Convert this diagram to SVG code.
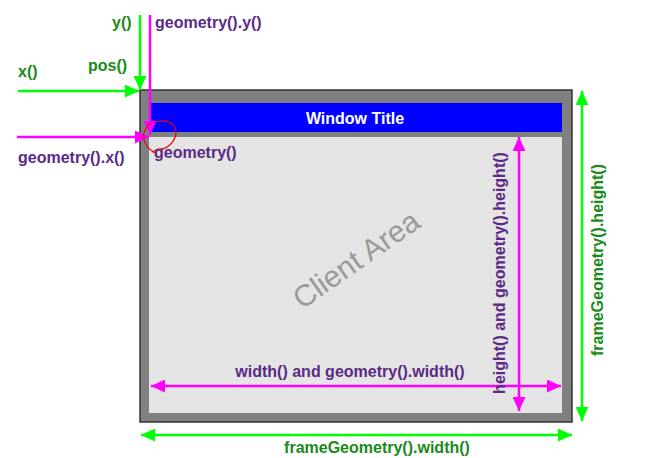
<svg xmlns="http://www.w3.org/2000/svg" width="646" height="458" viewBox="0 0 646 458">
<style>
text{font-family:"Liberation Sans",Arial,sans-serif;font-weight:bold;font-size:16px}
.g{fill:#1a8a1a}.p{fill:#5b2a86}
.lg{stroke:#00ff00;stroke-width:2.5;fill:none}
.lm{stroke:#ff00ff;stroke-width:2.5;fill:none}
</style>
<defs>
<marker id="ag" viewBox="0 0 10 10" refX="10" refY="5" markerWidth="14" markerHeight="13" orient="auto-start-reverse" markerUnits="userSpaceOnUse" preserveAspectRatio="none"><path d="M0,0L10,5L0,10z" fill="#00ff00"/></marker>
<marker id="am" viewBox="0 0 10 10" refX="10" refY="5" markerWidth="14" markerHeight="13" orient="auto-start-reverse" markerUnits="userSpaceOnUse" preserveAspectRatio="none"><path d="M0,0L10,5L0,10z" fill="#ff00ff"/></marker>
</defs>
<g id="window">
<rect x="140" y="90" width="432" height="332" fill="#808080" stroke="#333" stroke-width="1.5"/>
<rect x="149" y="137" width="413" height="276" fill="#e4e4e4"/>
<rect x="149" y="103" width="413" height="29" fill="#0000ff"/>
<text x="355" y="124" fill="#fff" text-anchor="middle">Window Title</text>
<text x="362" y="268" transform="rotate(-35 362 268)" text-anchor="middle" style="font-weight:normal;font-size:30px;fill:#999">Client Area</text>
</g>
<g id="connectors">
<line class="lg" x1="18" y1="91" x2="139" y2="91" marker-end="url(#ag)"/>
<line class="lg" x1="140" y1="15" x2="140" y2="90" marker-end="url(#ag)"/>
<line class="lm" x1="150" y1="15" x2="150" y2="135" marker-end="url(#am)"/>
<line class="lm" x1="17" y1="137" x2="149" y2="137" marker-end="url(#am)"/>
<line class="lm" x1="151" y1="386" x2="561" y2="386" marker-start="url(#am)" marker-end="url(#am)"/>
<line class="lm" x1="519" y1="137" x2="519" y2="411" marker-start="url(#am)" marker-end="url(#am)"/>
<line class="lg" x1="582" y1="91" x2="582" y2="421" marker-start="url(#ag)" marker-end="url(#ag)"/>
<line class="lg" x1="141" y1="435" x2="572" y2="435" marker-start="url(#ag)" marker-end="url(#ag)"/>
<path d="M155,153 C146,148 140,138 146,128 C152,120 168,118 174,126 C180,136 170,150 158,149 L152,152" fill="none" stroke="#e00" stroke-width="1.2"/>
</g>
<g id="labels">
<text x="112" y="28" class="g">y()</text>
<text x="155" y="28" class="p">geometry().y()</text>
<text x="18" y="77" class="g">x()</text>
<text x="88" y="71" class="g">pos()</text>
<text x="18" y="163" class="p">geometry().x()</text>
<text x="154" y="158" class="p">geometry()</text>
<text x="350" y="377" class="p" text-anchor="middle">width() and geometry().width()</text>
<text x="505" y="273" class="p" text-anchor="middle" transform="rotate(-90 505 273)">height() and geometry().height()</text>
<text x="603" y="260" class="g" text-anchor="middle" transform="rotate(-90 603 260)">frameGeometry().height()</text>
<text x="377" y="453" class="g" text-anchor="middle">frameGeometry().width()</text>
</g>
</svg>
